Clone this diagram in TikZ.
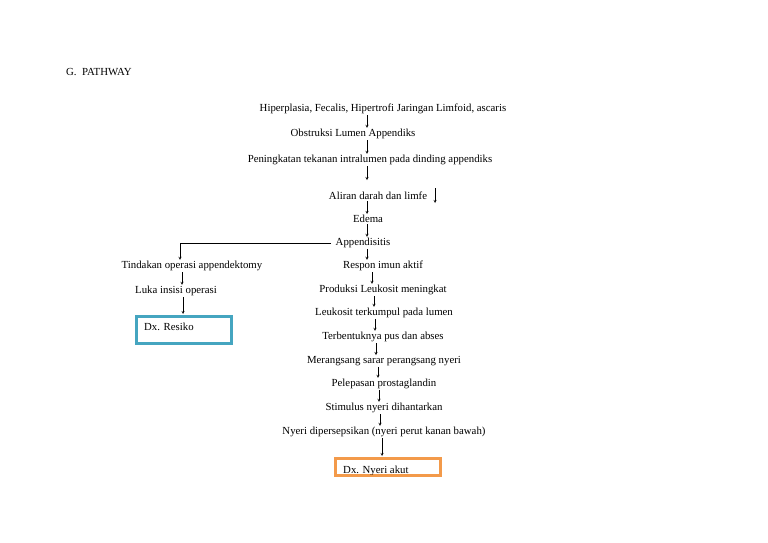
\documentclass[tikz,border=0pt]{standalone}
\usepackage{fontspec}
\setmainfont{Liberation Serif}
\usetikzlibrary{arrows,shapes}
\definecolor{dxblue}{HTML}{45A5C0}
\definecolor{dxorange}{HTML}{F39A4A}
\begin{document}
\begin{tikzpicture}[x=1pt,y=-1pt,
    stage/.style={inner sep=1pt,font=\fontsize{10.8}{12}\selectfont},
    arr/.style={-triangle 45,thin,>=triangle 45,arrows={-stealth}}]
    \useasboundingbox (0,0) rectangle (768,543);
    \node[stage,anchor=west] (title) at (65,72) {G.\ \ PATHWAY};
    % main column
    \node[stage] (hip) at (383,109) {Hiperplasia, Fecalis, Hipertrofi Jaringan Limfoid, ascaris};
    \node[stage] (obs) at (353,134) {Obstruksi Lumen Appendiks};
    \node[stage] (pen) at (370,160) {Peningkatan tekanan intralumen pada dinding appendiks};
    \node[stage] (ali) at (378,196) {Aliran darah dan limfe};
    \node[stage] (ede) at (368,219) {Edema};
    \node[stage] (app) at (363,243) {Appendisitis};
    % left branch
    \node[stage] (tin) at (192,266) {Tindakan operasi appendektomy};
    \node[stage] (luk) at (176,291) {Luka insisi operasi};
    \draw[draw=dxblue,line width=3pt] (136,316) rectangle (231,343);
    \node[stage,anchor=west] (dxa) at (143,327) {Dx. Resiko};
    % right branch
    \node[stage] (res) at (383,266) {Respon imun aktif};
    \node[stage] (pro) at (383,290) {Produksi Leukosit meningkat};
    \node[stage] (leu) at (384,313) {Leukosit terkumpul pada lumen};
    \node[stage] (ter) at (383,337) {Terbentuknya pus dan abses};
    \node[stage] (mer) at (384,361) {Merangsang sarar perangsang nyeri};
    \node[stage] (pel) at (384,384) {Pelepasan prostaglandin};
    \node[stage] (sti) at (384,408) {Stimulus nyeri dihantarkan};
    \node[stage] (nye) at (384,432) {Nyeri dipersepsikan (nyeri perut kanan bawah)};
    \draw[draw=dxorange,line width=3pt] (335,458) rectangle (440,475);
    \begin{scope}
      \clip (336,459) rectangle (439,474);
      \node[stage,anchor=west] (dxb) at (342,471) {Dx. Nyeri akut};
    \end{scope}
    \coordinate (dxatop) at (183,314);
    \coordinate (dxbtop) at (382,456);
    \coordinate (alidown) at (435,188);
    \coordinate (split) at (180,243);
    \coordinate (appleft) at (331,243);

    \draw[arr] (hip.south -| 367,0) -- (obs.north -| 367,0);
    \draw[arr] (obs.south -| 367,0) -- (pen.north -| 367,0);
    \draw[arr] (pen.south -| 367,0) -- ++(0,14);
    \draw[arr] (alidown) -- ++(0,15);
    \draw[arr] (ali.south -| 367,0) -- (ede.north -| 367,0);
    \draw[arr] (ede.south -| 367,0) -- (app.north -| 367,0);
    \draw[arr] (appleft) -- (split) -- (tin.north -| split);
    \draw[arr] (tin.south -| 182,0) -- (luk.north -| 182,0);
    \draw[arr] (luk.south -| 183,0) -- (dxatop);
    \draw[arr] (app.south -| 367,0) -- (res.north -| 367,0);
    \draw[arr] (res.south -| 372,0) -- (pro.north -| 372,0);
    \draw[arr] (pro.south -| 374,0) -- (leu.north -| 374,0);
    \draw[arr] (leu.south -| 375,0) -- (ter.north -| 375,0);
    \draw[arr] (ter.south -| 376,0) -- (mer.north -| 376,0);
    \draw[arr] (mer.south -| 378,0) -- (pel.north -| 378,0);
    \draw[arr] (pel.south -| 379,0) -- (sti.north -| 379,0);
    \draw[arr] (sti.south -| 380,0) -- (nye.north -| 380,0);
    \draw[arr] (nye.south -| 382,0) -- (dxbtop);
\end{tikzpicture}
\end{document}
